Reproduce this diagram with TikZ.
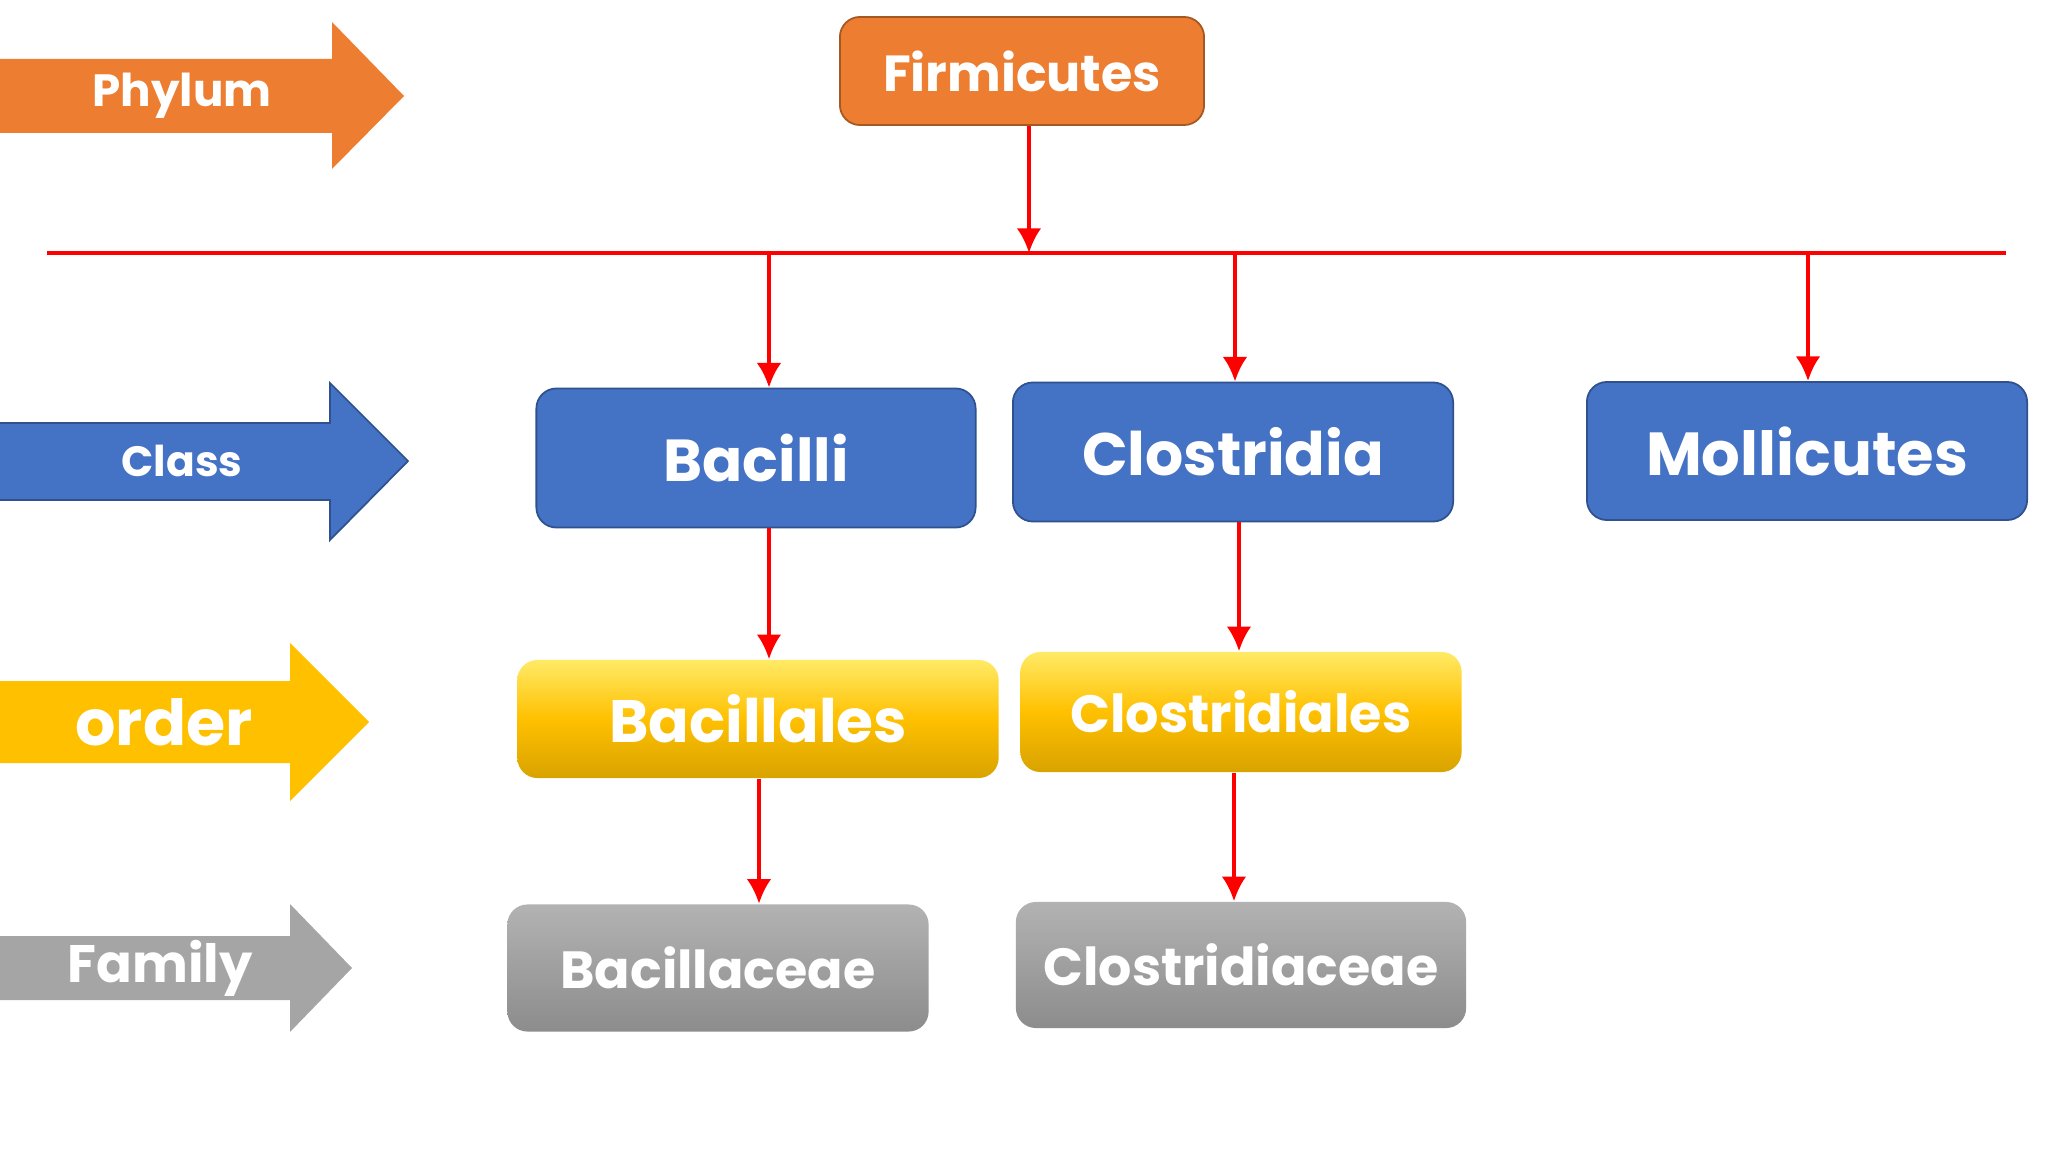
\documentclass[tikz,border=0pt]{standalone}
\usepackage{fontspec}
\setmainfont{Poppins}
\usetikzlibrary{calc,arrows.meta}
\definecolor{orng}{HTML}{ED7D31}
\definecolor{blu}{HTML}{4472C4}
\definecolor{blud}{HTML}{2F528F}
\definecolor{ylw}{HTML}{FFC000}
\definecolor{gry}{HTML}{A5A5A5}
\newcommand{\fitw}[2]{\resizebox{#1\dimexpr0.01cm\relax}{!}{\bfseries #2}}
\tikzset{
 box/.style={rounded corners=0.2cm,text=white,inner sep=0pt},
 obox/.style={box,fill=orng,draw=orng!70!black,line width=0.5pt},
 bbox/.style={box,fill=blu,draw=blud,line width=0.5pt},
 ybox/.style={box,top color=ylw!55!yellow!60!white,bottom color=ylw!85!black,middle color=ylw,draw=none},
 gbox/.style={box,top color=gry!85!white,bottom color=gry!85!black,draw=none},
 arr/.style={draw=red,line width=1.1pt,-{Latex[length=7pt,width=7pt]}},
 lbl/.style={text=white,inner sep=0pt}
}
\begin{document}
\begin{tikzpicture}[x=0.01cm,y=-0.01cm]
\useasboundingbox (0,0) rectangle (2048,1152);
\fill[white] (0,0) rectangle (2048,1152);
% left arrows
\fill[orng] (0,59) -- (332,59) -- (332,22) -- (404,96) -- (332,169) -- (332,133) -- (0,133) -- cycle;
\node[lbl] (lphy) at (182,96) {\fitw{179}{Phylum}};
\fill[blu] (0,423) -- (330,423) -- (330,383) -- (408,461) -- (330,540) -- (330,500) -- (0,500) -- cycle;
\draw[blud,line width=0.5pt] (0,423) -- (330,423) -- (330,383) -- (408,461) -- (330,540) -- (330,500) -- (0,500);
\node[lbl] (lcls) at (182,461) {\fitw{121}{Class}};
\fill[ylw] (0,681) -- (290,681) -- (290,643) -- (369,722) -- (290,801) -- (290,763) -- (0,763) -- cycle;
\node[lbl] (lord) at (164,722) {\fitw{177}{order}};
\fill[gry] (0,936) -- (290,936) -- (290,904) -- (352,968) -- (290,1032) -- (290,1000) -- (0,1000) -- cycle;
\node[lbl] (lfam) at (160,968) {\fitw{185}{Family}};
% boxes
\node[obox,minimum width=3.64cm,minimum height=1.08cm] (firm) at (1022,71) {\fitw{278}{Firmicutes}};
\node[bbox,minimum width=4.39cm,minimum height=1.39cm] (baci) at (756,458) {\fitw{185}{Bacilli}};
\node[bbox,minimum width=4.40cm,minimum height=1.39cm] (clos) at (1233,452) {\fitw{302}{Clostridia}};
\node[bbox,minimum width=4.40cm,minimum height=1.38cm] (moll) at (1807,451) {\fitw{322}{Mollicutes}};
\node[ybox,minimum width=4.81cm,minimum height=1.18cm] (bacl) at (758,719) {\fitw{298}{Bacillales}};
\node[ybox,minimum width=4.41cm,minimum height=1.20cm] (clol) at (1241,712) {\fitw{341}{Clostridiales}};
\node[gbox,minimum width=4.21cm,minimum height=1.27cm] (bacc) at (718,968) {\fitw{315}{Bacillaceae}};
\node[gbox,minimum width=4.50cm,minimum height=1.26cm] (cloc) at (1241,965) {\fitw{395}{Clostridiaceae}};
% connectors
\coordinate (hl) at (47,253);
\coordinate (hr) at (2006,253);
\draw[red,line width=1.1pt] (hl) -- (hr);
\coordinate (c0) at (1029,253);
\coordinate (c1) at (769,253);
\coordinate (c2) at (1235,253);
\coordinate (c3) at (1808,253);
\draw[arr] (firm.south -| c0) -- (c0);
\draw[arr] (c1) -- (baci.north -| c1);
\draw[arr] (c2) -- (clos.north -| c2);
\draw[arr] (c3) -- (moll.north -| c3);
\coordinate (d1) at (769,0);
\coordinate (d2) at (1239,0);
\coordinate (e1) at (759,0);
\coordinate (e2) at (1234,0);
\draw[arr] (baci.south -| d1) -- (bacl.north -| d1);
\draw[arr] (clos.south -| d2) -- (clol.north -| d2);
\draw[arr] (bacl.south -| e1) -- (bacc.north -| e1);
\draw[arr] (clol.south -| e2) -- (cloc.north -| e2);
\end{tikzpicture}
\end{document}
